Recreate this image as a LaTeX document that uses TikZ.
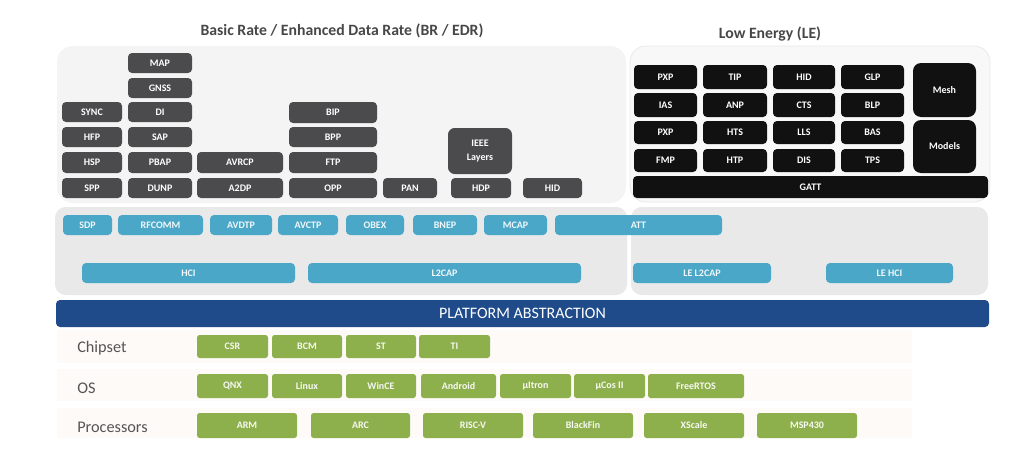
\documentclass[tikz,border=0pt]{standalone}
\usepackage{fontspec}
\setmainfont{Carlito}
\newcommand{\pb}[7]{\node[#1, minimum width={(#5-#3)*0.75pt}, minimum height={(#6-#4)*0.75pt}] (#2) at ({(#3+#5)/2},{(#4+#6)/2}) {#7};}
\definecolor{grbox}{HTML}{4B4B4D}
\definecolor{blbox}{HTML}{111111}
\definecolor{cyanbox}{HTML}{4BA7C7}
\definecolor{grnbox}{HTML}{8DAF4C}
\definecolor{navy}{HTML}{1F4B8B}
\definecolor{paneltop}{HTML}{F4F4F4}
\definecolor{panelmid}{HTML}{E9E9E9}
\definecolor{rowbg}{HTML}{FDFAF8}
\definecolor{labelgray}{HTML}{555555}
\begin{document}
\begin{tikzpicture}[x=0.75pt,y=-0.75pt,
  base/.style={inner sep=0pt, outer sep=0pt, rounded corners=3pt, text=white, font=\bfseries\fontsize{7.5}{8}\selectfont},
  gbox/.style={base, fill=grbox},
  kbox/.style={base, fill=blbox},
  cbox/.style={base, fill=cyanbox, text=white!92!cyanbox},
  nbox/.style={base, fill=grnbox, rounded corners=2pt, text=white!92!grnbox},
  panel/.style={inner sep=0pt, outer sep=0pt, rounded corners=12pt},
  ttl/.style={text=black!72, font=\fontsize{11.8}{14}\selectfont\bfseries},
  rowlabel/.style={anchor=west, text=labelgray, font=\fontsize{12.2}{14}\selectfont, inner sep=0pt}]
\useasboundingbox[fill=white] (0,0) rectangle (1024,475);
% titles
\node[ttl] (t1) at (342,31) {Basic Rate / Enhanced Data Rate (BR / EDR)};
\node[ttl] (t2) at (770,34) {Low Energy (LE)};
% top panels
\pb{panel, fill=paneltop}{brp}{57}{46}{626}{203}{}
\pb{panel, fill=paneltop!60!white, draw=panelmid, line width=0.6pt}{lep}{630}{46}{990}{202}{}
% BR/EDR profile boxes
\pb{gbox}{sync}{62}{102}{122}{122}{SYNC}
\pb{gbox}{hfp}{62}{127}{122}{147}{HFP}
\pb{gbox}{hsp}{62}{152}{122}{173}{HSP}
\pb{gbox}{spp}{62}{178}{122}{198}{SPP}
\pb{gbox}{map}{128}{53}{192}{73}{MAP}
\pb{gbox}{gnss}{128}{78}{192}{98}{GNSS}
\pb{gbox}{di}{128}{102}{192}{122}{DI}
\pb{gbox}{sap}{128}{127}{192}{147}{SAP}
\pb{gbox}{pbap}{128}{152}{192}{173}{PBAP}
\pb{gbox}{dunp}{128}{178}{192}{198}{DUNP}
\pb{gbox}{avrcp}{197}{152}{283}{173}{AVRCP}
\pb{gbox}{a2dp}{197}{178}{283}{198}{A2DP}
\pb{gbox}{bip}{289}{102}{377}{123}{BIP}
\pb{gbox}{bpp}{289}{127}{377}{147}{BPP}
\pb{gbox}{ftp}{289}{152}{377}{173}{FTP}
\pb{gbox}{opp}{289}{178}{377}{198}{OPP}
\pb{gbox}{pan}{383}{178}{437}{198}{PAN}
\pb{gbox, rounded corners=5pt, align=center, font=\bfseries\fontsize{7.5}{11}\selectfont}{ieee}{448}{128}{512}{174}{IEEE\\Layers}
\pb{gbox}{hdp}{451}{178}{511}{198}{HDP}
\pb{gbox}{hid}{523}{178}{582}{198}{HID}
% LE boxes
\pb{kbox}{pxpa}{634}{65}{697}{89}{PXP}
\pb{kbox}{tip}{703}{65}{767}{89}{TIP}
\pb{kbox}{hidle}{773}{65}{835}{89}{HID}
\pb{kbox}{glp}{841}{65}{904}{89}{GLP}
\pb{kbox}{ias}{634}{93}{697}{117}{IAS}
\pb{kbox}{anp}{703}{93}{767}{117}{ANP}
\pb{kbox}{cts}{773}{93}{835}{117}{CTS}
\pb{kbox}{blp}{841}{93}{904}{117}{BLP}
\pb{kbox}{pxpb}{634}{121}{697}{144}{PXP}
\pb{kbox}{hts}{703}{121}{767}{144}{HTS}
\pb{kbox}{lls}{773}{121}{835}{144}{LLS}
\pb{kbox}{bas}{841}{121}{904}{144}{BAS}
\pb{kbox}{fmp}{634}{149}{697}{172}{FMP}
\pb{kbox}{htp}{703}{149}{767}{172}{HTP}
\pb{kbox}{dis}{773}{149}{835}{172}{DIS}
\pb{kbox}{tps}{841}{149}{904}{172}{TPS}
\pb{kbox, rounded corners=6pt}{mesh}{913}{63}{976}{117}{Mesh}
\pb{kbox, rounded corners=6pt}{models}{913}{120}{976}{173}{Models}
\pb{kbox}{gatt}{633}{176}{988}{198}{GATT}
% middle panels
\pb{panel, fill=panelmid, rounded corners=8pt}{brmid}{55}{207}{627}{295}{}
\pb{panel, fill=panelmid, rounded corners=8pt}{lemid}{631}{207}{988}{295}{}
% protocol boxes
\pb{cbox}{sdp}{63}{215}{112}{235}{SDP}
\pb{cbox}{rfcomm}{118}{215}{203}{235}{RFCOMM}
\pb{cbox}{avdtp}{210}{215}{272}{235}{AVDTP}
\pb{cbox}{avctp}{278}{215}{338}{235}{AVCTP}
\pb{cbox}{obex}{346}{215}{404}{235}{OBEX}
\pb{cbox}{bnep}{413}{215}{477}{235}{BNEP}
\pb{cbox}{mcap}{484}{215}{547}{235}{MCAP}
\pb{cbox}{att}{555}{215}{722}{235}{ATT}
\pb{cbox}{hci}{82}{263}{295}{283}{HCI}
\pb{cbox}{l2cap}{308}{263}{581}{283}{L2CAP}
\pb{cbox}{lel2cap}{633}{263}{771}{283}{LE L2CAP}
\pb{cbox}{lehci}{826}{263}{953}{283}{LE HCI}
% platform abstraction
\pb{base, fill=navy, rounded corners=3pt, font=\fontsize{12}{14}\selectfont}{plat}{56}{300}{989}{327}{PLATFORM ABSTRACTION}
% rows
\pb{inner sep=0pt, fill=rowbg}{rchip}{57}{330}{912}{363}{}
\pb{inner sep=0pt, fill=rowbg}{ros}{57}{369}{912}{401}{}
\pb{inner sep=0pt, fill=rowbg}{rproc}{57}{408}{912}{438}{}
\node[rowlabel] (lchip) at (77,348) {Chipset};
\node[rowlabel] (los) at (77,388) {OS};
\node[rowlabel] (lproc) at (77,427) {Processors};
% chipset
\pb{nbox}{csr}{197}{335}{268}{358}{CSR}
\pb{nbox}{bcm}{272}{335}{342}{358}{BCM}
\pb{nbox}{st}{346}{335}{416}{358}{ST}
\pb{nbox}{ti}{419}{335}{490}{358}{TI}
% OS
\pb{nbox}{qnx}{197}{374}{268}{398}{QNX}
\pb{nbox}{linux}{272}{374}{342}{398}{Linux}
\pb{nbox}{wince}{346}{374}{416}{398}{WinCE}
\pb{nbox}{android}{421}{374}{496}{398}{Android}
\pb{nbox}{uitron}{500}{374}{571}{398}{µItron}
\pb{nbox}{ucos}{574}{374}{645}{398}{µCos II}
\pb{nbox}{freertos}{648}{374}{744}{398}{FreeRTOS}
% processors
\pb{nbox}{arm}{197}{413}{297}{438}{ARM}
\pb{nbox}{arc}{311}{413}{410}{438}{ARC}
\pb{nbox}{riscv}{423}{413}{523}{438}{RISC-V}
\pb{nbox}{blackfin}{533}{413}{633}{438}{BlackFin}
\pb{nbox}{xscale}{644}{413}{744}{438}{XScale}
\pb{nbox}{msp}{757}{413}{857}{438}{MSP430}
\end{tikzpicture}
\end{document}
